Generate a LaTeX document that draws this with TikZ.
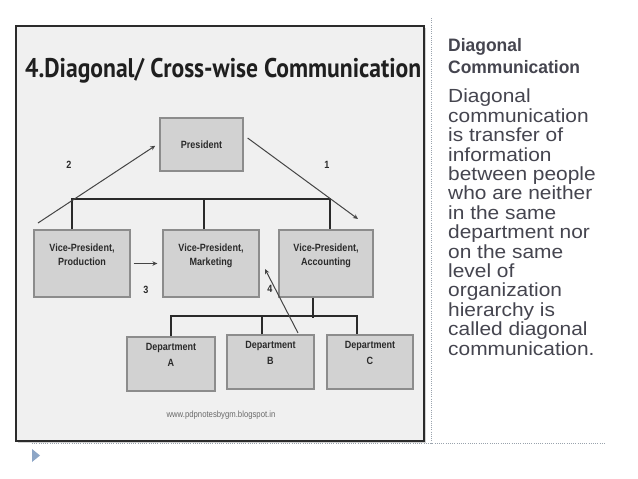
\documentclass[tikz,border=0pt]{standalone}
\usepackage{fontspec}
\usepackage{graphicx}
\setmainfont{Liberation Sans}
\newfontfamily\titlefont{PT Sans}
\newfontfamily\boxfont[FakeStretch=0.86]{Liberation Sans}
\newfontfamily\bodyfont[FakeStretch=1.1]{Liberation Sans}
\newfontfamily\headfont[FakeStretch=0.97]{Liberation Sans}
\usetikzlibrary{arrows.meta}
\definecolor{framefill}{HTML}{F0F0F0}
\definecolor{frameline}{HTML}{2B2B2B}
\definecolor{boxfill}{HTML}{D2D2D2}
\definecolor{boxline}{HTML}{8C8C8C}
\definecolor{boxtext}{HTML}{2A2A2A}
\definecolor{orgline}{HTML}{2A2A2A}
\definecolor{arrline}{HTML}{454545}
\definecolor{slidetext}{HTML}{45454F}
\definecolor{dotline}{HTML}{9AA3AD}
\definecolor{bulletblue}{HTML}{8DA6C6}
\definecolor{footgray}{HTML}{6A6A6A}
\begin{document}
\begin{tikzpicture}[x=1pt,y=-1pt,
  box/.style={draw=boxline, fill=boxfill, line width=1.2pt, inner sep=0pt,
    font=\boxfont\bfseries\fontsize{10.5}{14}\selectfont, align=center, text=boxtext},
  deptbox/.style={draw=boxline, fill=boxfill, line width=1.2pt, inner sep=0pt},
  deptlabel/.style={align=center, anchor=north, inner sep=0pt, yshift=-7pt,
    font=\boxfont\bfseries\fontsize{10.5}{16}\selectfont, text=boxtext},
  org/.style={draw=orgline, line width=2pt},
  arr/.style={draw=arrline, line width=1pt, -{Stealth[length=5pt,width=4.5pt]}},
  num/.style={font=\boxfont\bfseries\fontsize{10.5}{12}\selectfont, text=boxtext, inner sep=0pt},
  dotted line/.style={draw=dotline, line width=0.6pt, dash pattern=on 1pt off 1.2pt}
]
\useasboundingbox (0,0) rectangle (638,479);
\fill[white] (0,0) rectangle (638,479);

% slide decorations
\draw[dotted line] (431,18) -- (431,443);
\draw[dotted line] (32,443) -- (606,443);
\fill[bulletblue] (32,449) -- (40,455.5) -- (32,462) -- cycle;

% picture frame
\fill[gray!35] (18,28) rectangle (426,443);
\draw[line width=2.5pt, draw=frameline, fill=framefill] (16,26) rectangle (424,441);

% title
\node[anchor=base west, inner sep=0pt, text=black!88] (title) at (25,77)
  {\resizebox{396pt}{\height}{\titlefont\bfseries\fontsize{27}{30}\selectfont 4.Diagonal/ Cross-wise Communication}};

% boxes
\node[box, minimum width=83pt, minimum height=53pt] (pres) at (201.5,144.5) {President};
\node[box, minimum width=96pt, minimum height=67pt] (vpp) at (82,263.5) {Vice-President,\\Production\\[4pt]};
\node[box, minimum width=96pt, minimum height=67pt] (vpm) at (211,263.5) {Vice-President,\\Marketing\\[4pt]};
\node[box, minimum width=94pt, minimum height=67pt] (vpa) at (326,263.5) {Vice-President,\\Accounting\\[4pt]};

\node[deptbox, minimum width=88pt, minimum height=54pt,
  label={[deptlabel]north:Department\\A}] (da) at (171,364) {};
\node[deptbox, minimum width=87pt, minimum height=54pt,
  label={[deptlabel]north:Department\\B}] (db) at (270.5,362) {};
\node[deptbox, minimum width=86pt, minimum height=54pt,
  label={[deptlabel]north:Department\\C}] (dc) at (370,362) {};

% organisation lines
\draw[org] ([xshift=-10pt]vpp.north) -- ++(0,-30) -| ([xshift=4pt]vpa.north);
\draw[org] ([xshift=-7pt]vpm.north) -- ++(0,-30);
\draw[org] ([xshift=-13pt]vpa.south) -- ++(0,20);
\draw[org] (da.north) -- ++(0,-20) -| ([xshift=-13pt]dc.north);
\draw[org] ([xshift=-8.5pt]db.north) -- ++(0,-18);

% communication arrows
\coordinate (a2s) at (38,223);
\coordinate (a1e) at (358,219);
\coordinate (a4s) at (298,333);
\coordinate (a4e) at (265,269);
\draw[arr, shorten >=5pt] (a2s) -- (pres.west |- 0,143);
\draw[arr] ([xshift=4pt]pres.east |- 0,138) -- (a1e);
\draw[arr, shorten <=3pt, shorten >=5pt] (vpp.east) -- (vpm.west);
\draw[arr] (a4s) -- (a4e);

\node[num] (n2) at (69,165) {2};
\node[num] (n1) at (327,165) {1};
\node[num] (n3) at (146,290) {3};
\node[num] (n4) at (270,289) {4};

% footer
\node[inner sep=0pt, font=\boxfont\fontsize{9}{11}\selectfont, text=footgray] (foot) at (221,415) {www.pdpnotesbygm.blogspot.in};

% right-hand text
\node[anchor=north west, inner sep=0pt, align=left, text=slidetext,
  font=\headfont\bfseries\fontsize{18}{22}\selectfont] (head) at (448,38)
  {Diagonal\\Communication};
\node[anchor=north west, inner sep=0pt, align=left, text=slidetext,
  font=\bodyfont\fontsize{19}{19.4}\selectfont] (body) at (448,89)
  {Diagonal\\communication\\is transfer of\\information\\between people\\who are neither\\in the same\\department nor\\on the same\\level of\\organization\\hierarchy is\\called diagonal\\communication.};
\end{tikzpicture}
\end{document}
